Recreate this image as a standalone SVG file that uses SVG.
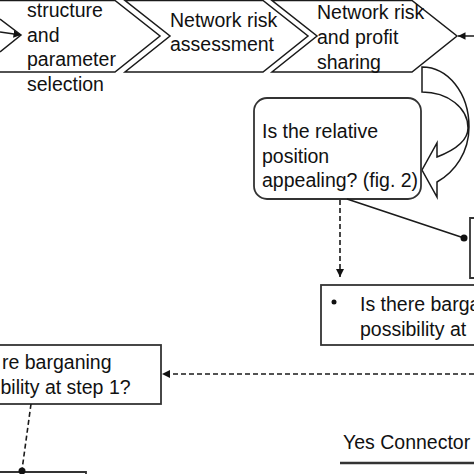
<svg xmlns="http://www.w3.org/2000/svg" width="474" height="474" viewBox="0 0 474 474">
<style>
  text { font-family: "Liberation Sans", Arial, sans-serif; font-size: 19.5px; fill: #111; }
  .ln { fill: none; stroke: #1a1a1a; stroke-width: 1.5; }
  .box { fill: #fff; stroke: #333; stroke-width: 1.8; }
  .dash { fill: none; stroke: #1a1a1a; stroke-width: 1.6; stroke-dasharray: 5 3; }
  .dot { fill: #111; }
</style>
<defs>
  <marker id="ah" viewBox="0 0 10 10" refX="10" refY="5" markerWidth="5" markerHeight="5" orient="auto" markerUnits="strokeWidth">
    <path d="M0,0 L10,5 L0,10 z" fill="#111"/>
  </marker>
</defs>
<rect width="474" height="474" fill="#fff"/>

<g id="start-shape">
  <path class="ln" d="M0,19 L21,35 L0,52"/>
</g>

<g id="chevron-structure">
  <path class="ln" d="M-5,0.5 L115,0.5 L160,36 L115,72 L-5,72"/>
  <text x="27" y="17">structure</text>
  <text x="27" y="41.7">and</text>
  <text x="27" y="66.4">parameter</text>
  <text x="27" y="91.1">selection</text>
</g>

<g id="chevron-risk-assessment">
  <path class="ln" d="M125,0.5 L263,0.5 L308,36 L263,72 L125,72 L170,36 Z"/>
  <text x="170" y="26.5">Network risk</text>
  <text x="170" y="51.3">assessment</text>
</g>

<g id="chevron-risk-sharing">
  <path class="ln" d="M272,0.5 L412,0.5 L457,36 L412,72 L272,72 L317,36 Z"/>
  <text x="317" y="18.5">Network risk</text>
  <text x="317" y="44">and profit</text>
  <text x="317" y="69">sharing</text>
</g>

<g id="curved-arrow">
  <path class="ln" fill="#fff" d="M422,67 C448,67 469,93 469,127 C469,152 455,172 437,182 L437,197 L422,170 L437,143 L437,157 C455,150 468,140 468,128 C468,108 448,92 422,92 Z"/>
</g>

<g id="relative-position">
  <rect class="box" x="254" y="98" width="167" height="101" rx="13" ry="13" fill="none"/>
  <text x="262" y="138">Is the relative</text>
  <text x="262" y="162.5">position</text>
  <text x="262" y="187">appealing? (fig. 2)</text>
</g>

<g id="bargaining-step2">
  <rect class="box" x="321" y="285" width="165" height="60"/>
  <circle class="dot" cx="334" cy="302" r="2.5"/>
  <text x="360" y="310.5">Is there barga</text>
  <text x="360" y="336">possibility at</text>
</g>

<g id="right-box">
  <path class="box" fill="none" d="M480,218 L470,218 L470,278 L480,278"/>
</g>

<g id="bargaining-step1">
  <rect class="box" x="-5" y="345" width="166" height="59"/>
  <text x="2" y="369">re barganing</text>
  <text x="0.5" y="394">bility at step 1?</text>
</g>

<g id="bottom-box">
  <path class="box" fill="none" d="M-5,472 L86,472 L86,480"/>
</g>

<g id="legend">
  <text x="343" y="449">Yes Connector</text>
  <line x1="340" y1="463" x2="474" y2="463" stroke="#333" stroke-width="2.5"/>
</g>

<g id="connectors">
  <line class="ln" x1="0" y1="32" x2="21" y2="35" marker-end="url(#ah)"/>
  <line class="ln" x1="474" y1="36" x2="458" y2="36" marker-end="url(#ah)"/>
  <line class="dash" x1="340" y1="200" x2="340" y2="277" marker-end="url(#ah)"/>
  <line class="ln" x1="347" y1="199" x2="464" y2="238"/>
  <circle class="dot" cx="464" cy="238" r="3.5"/>
  <line class="dash" x1="474" y1="374" x2="162" y2="374" marker-end="url(#ah)"/>
  <line class="dash" x1="31" y1="404" x2="22" y2="470"/>
  <circle class="dot" cx="22" cy="471" r="3.5"/>
</g>
</svg>
